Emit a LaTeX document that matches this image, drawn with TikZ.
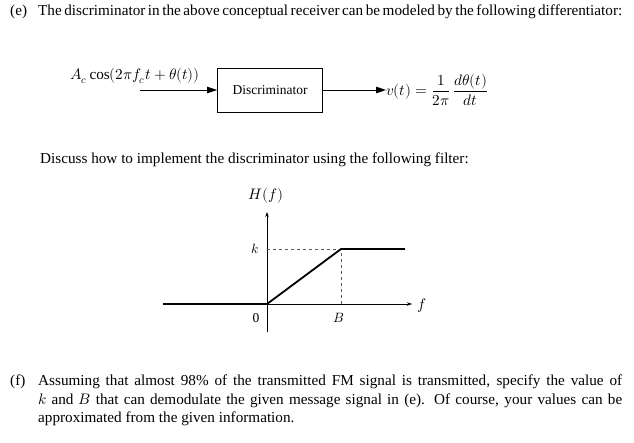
\documentclass[tikz,border=0pt]{standalone}
\usepackage{fontspec}
\setmainfont{Liberation Serif}
\usepackage{unicode-math}
\setmathfont{Latin Modern Math}
\usetikzlibrary{arrows.meta}
\hyphenpenalty=10000
\exhyphenpenalty=10000
\begin{document}
\begin{tikzpicture}[x=1pt,y=-1pt,
  para/.style={anchor=north west,text width=584pt,align=justify,inner sep=0pt,font=\fontsize{15.2}{18.5}\selectfont},
  lbl/.style={inner sep=0pt,font=\fontsize{15.2}{17}\selectfont},
  sm/.style={inner sep=0pt,font=\fontsize{13.5}{15}\selectfont},
  arr/.style={-{Triangle[length=10pt,width=6.5pt]},line width=0.8pt},
  thick1/.style={line width=1.8pt},
  dsh/.style={dashed,gray!70!black,line width=0.5pt}]
\useasboundingbox (0,0) rectangle (634,442);
\node[lbl,anchor=north west] (ea) at (10,5) {(e)};
\node[para] (e) at (38,5) {The discriminator in the above conceptual receiver can be modeled by the following differentiator:};
\node[lbl] (in) at (135,76) {$A_c\cos(2\pi f_c t+\theta(t))$};
\node[draw,line width=0.8pt,minimum width=105pt,minimum height=44pt,sm] (d) at (270,90) {Discriminator};
\coordinate (s) at (140,90);
\draw[arr] (s) -- (d.west);
\node[lbl,anchor=west] (out) at (386,90) {$v(t)=\dfrac{1}{2\pi}\,\dfrac{d\theta(t)}{dt}$};
\draw[arr] (d.east) -- (out.west);
\node[lbl,anchor=west] (q) at (40,160) {Discuss how to implement the discriminator using the following filter:};
\node[lbl] (H) at (266,196) {$H(f)$};
\coordinate (o) at (267,304);
\coordinate (vb) at (267,332);
\coordinate (vt) at (267,212);
\coordinate (hl) at (163,304);
\coordinate (hr) at (412,304);
\coordinate (kb) at (341,249);
\coordinate (ke) at (405,249);
\coordinate (bb) at (341,304);
\draw[-{Stealth[length=5pt,width=3.5pt]},line width=0.5pt] (vb) -- (vt);
\draw[-{Stealth[length=5pt,width=3.5pt]},line width=0.5pt] (o) -- (hr);
\draw[dsh] (o |- kb) -- (kb) -- (bb);
\draw[thick1] (hl) -- (o) -- (kb) -- (ke);
\node[sm] (k) at (255,249) {$k$};
\node[sm] (z) at (256,318) {0};
\node[sm] (B) at (339,318) {$B$};
\node[lbl] (f) at (422,306) {$f$};
\node[lbl,anchor=north west] (fa) at (10,375) {(f)};
\node[para] (ff) at (38,375) {Assuming that almost 98\% of the transmitted FM signal is transmitted, specify the value of $k$ and $B$ that can demodulate the given message signal in (e). Of course, your values can be approximated from the given information.};
\end{tikzpicture}
\end{document}
